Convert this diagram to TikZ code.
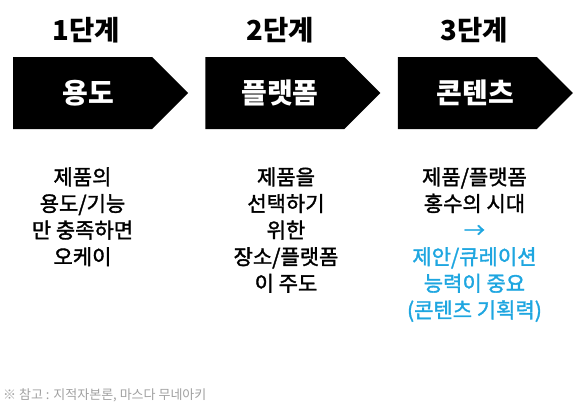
\documentclass[tikz,border=0pt]{standalone}
\usepackage{fontspec}
\setmainfont{Noto Sans CJK KR}
\newfontfamily\notefont[FakeBold=1.6]{Noto Sans CJK KR}
\usetikzlibrary{positioning,shapes.symbols}
\definecolor{ideablue}{HTML}{1EA6E0}
\definecolor{notegray}{HTML}{A0A0A0}
\tikzset{
  stagebox/.style={signal, signal to=east, fill=black, draw=none, minimum width=175pt, minimum height=72pt, inner sep=0pt},
  stagelabel/.style={text=white, font=\fontsize{28}{32}\selectfont\bfseries, inner sep=0pt},
  stagetitle/.style={font=\fontsize{27.5}{32}\selectfont\bfseries, inner sep=0pt},
  stagenote/.style={align=center, font=\notefont\fontsize{21}{26.6}\selectfont, inner sep=0pt}
}
\begin{document}
\begin{tikzpicture}[x=1pt, y=-1pt]
  \useasboundingbox (0,0) rectangle (580,415);
  \node[stagebox] (s1) at (82.5,93) {};
  \node[stagebox, right=17pt of s1] (s2) {};
  \node[stagebox, right=17pt of s2] (s3) {};

  \node[stagelabel] (l1) at ([xshift=6pt]s1.center) {용도};
  \node[stagelabel] (l2) at ([xshift=5pt]s2.center) {플랫폼};
  \node[stagelabel] (l3) at ([xshift=8pt]s3.center) {콘텐츠};

  \node[stagetitle, above=14pt of s1, xshift=4pt] (t1) {1단계};
  \node[stagetitle, above=14pt of s2, xshift=5pt] (t2) {2단계};
  \node[stagetitle, above=14pt of s3, xshift=7pt] (t3) {3단계};

  \node[stagenote, below=38pt of s1] (n1) {제품의\\용도/기능\\만 충족하면\\오케이};
  \node[stagenote, below=38pt of s2, xshift=11pt] (n2) {제품을\\선택하기\\위한\\장소/플랫폼\\이 주도};
  \node[stagenote, below=38pt of s3, xshift=7pt] (n3) {제품/플랫폼\\홍수의 시대\\\textcolor{ideablue}{→}\\\textcolor{ideablue}{제안/큐레이션}\\\textcolor{ideablue}{능력이 중요}\\\textcolor{ideablue}{(콘텐츠 기획력)}};

  \node[anchor=west, text=notegray, font=\fontsize{13}{15}\selectfont, inner sep=0pt] (src) at (3,395) {※ 참고 : 지적자본론, 마스다 무네아키};
\end{tikzpicture}
\end{document}
